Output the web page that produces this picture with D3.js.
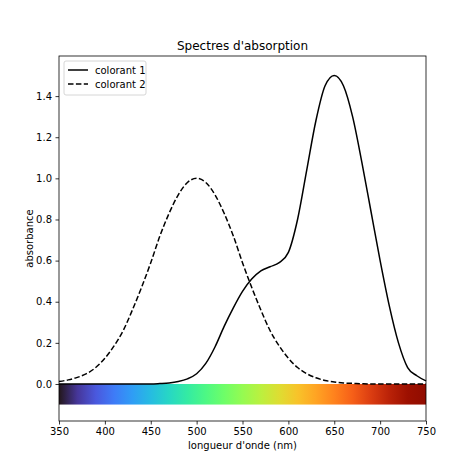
<!DOCTYPE html><html><head><script src="https://cdn.jsdelivr.net/npm/d3@7"></script>
<style>body{margin:0;background:#fff}text{font-family:"DejaVu Sans",sans-serif;fill:#000}</style></head><body>
<svg id="c" width="474" height="474"></svg>
<script>
const wl = [350,360,370,380,390,400,410,420,430,440,450,460,470,480,490,500,510,520,530,540,550,560,570,580,590,600,610,620,630,640,650,660,670,680,690,700,710,720,730,740,750];
const colorant1 = [0,0,0,0,0,0,0,0,0,0,0,0.002,0.005,0.012,0.025,0.05,0.1,0.18,0.28,0.37,0.45,0.51,0.55,0.57,0.59,0.64,0.8,1.04,1.28,1.45,1.5,1.45,1.3,1.08,0.84,0.6,0.38,0.2,0.08,0.04,0.015];
const colorant2 = [0.012,0.02,0.032,0.05,0.08,0.125,0.185,0.26,0.36,0.47,0.59,0.72,0.83,0.92,0.98,1.0,0.98,0.92,0.83,0.72,0.59,0.47,0.36,0.26,0.185,0.125,0.08,0.05,0.03,0.017,0.01,0.005,0.003,0.001,0,0,0,0,0,0,0];
const xTicks = [350,400,450,500,550,600,650,700,750];
const yTicks = [0,0.2,0.4,0.6,0.8,1.0,1.2,1.4];
const svg = d3.select("#c");
const L=59,R=426,T=56,B=421;
const x = d3.scaleLinear().domain([350,750]).range([L,R]);
const y = d3.scaleLinear().domain([-0.18,1.595]).range([B,T]);
const defs = svg.append("defs");
const g = defs.append("linearGradient").attr("id","sp");
d3.range(0,1.0001,0.05).forEach(t=>g.append("stop").attr("offset",t).attr("stop-color",d3.interpolateTurbo(t)));
svg.append("rect").attr("x",x(350)).attr("width",x(750)-x(350)).attr("y",y(0)).attr("height",y(-0.1)-y(0)).attr("fill","url(#sp)");
const line = d3.line().curve(d3.curveMonotoneX);
svg.append("path").attr("d",line(wl.map((w,i)=>[x(w),y(colorant1[i])]))).attr("fill","none").attr("stroke","#000").attr("stroke-width",1.5);
svg.append("path").attr("d",line(wl.map((w,i)=>[x(w),y(colorant2[i])]))).attr("fill","none").attr("stroke","#000").attr("stroke-width",1.5).attr("stroke-dasharray","5.5,2.4");
svg.append("rect").attr("x",L).attr("y",T).attr("width",R-L).attr("height",B-T).attr("fill","none").attr("stroke","#000").attr("stroke-width",0.8);
const xa = svg.append("g").attr("transform",`translate(0,${B})`).call(d3.axisBottom(x).tickValues(xTicks).tickSize(3.5).tickPadding(3.5));
const ya = svg.append("g").attr("transform",`translate(${L},0)`).call(d3.axisLeft(y).tickValues(yTicks).tickFormat(d3.format(".1f")).tickSize(3.5).tickPadding(3.5));
[xa,ya].forEach(a=>{a.select(".domain").remove();a.selectAll("text").style("font-size","10px").style("font-family","DejaVu Sans");a.selectAll("line").attr("stroke-width",0.8)});
svg.append("text").attr("x",(L+R)/2).attr("y",50).attr("text-anchor","middle").style("font-size","12px").text("Spectres d'absorption");
svg.append("text").attr("x",(L+R)/2).attr("y",449).attr("text-anchor","middle").style("font-size","10px").text("longueur d'onde (nm)");
svg.append("text").attr("transform",`translate(33,${(T+B)/2}) rotate(-90)`).attr("text-anchor","middle").style("font-size","10px").text("absorbance");
const lg = svg.append("g");
lg.append("rect").attr("x",64).attr("y",61).attr("width",82).attr("height",34).attr("rx",2).attr("fill","#fff").attr("stroke","#ccc").attr("stroke-width",0.8);
[["colorant 1",null],["colorant 2","5.5,2.4"]].forEach((d,i)=>{
  const yy=70+i*14;
  lg.append("line").attr("x1",68).attr("x2",88).attr("y1",yy).attr("y2",yy).attr("stroke","#000").attr("stroke-width",1.5).attr("stroke-dasharray",d[1]);
  lg.append("text").attr("x",95).attr("y",yy+3.5).style("font-size","10px").text(d[0]);
});
</script></body></html>
